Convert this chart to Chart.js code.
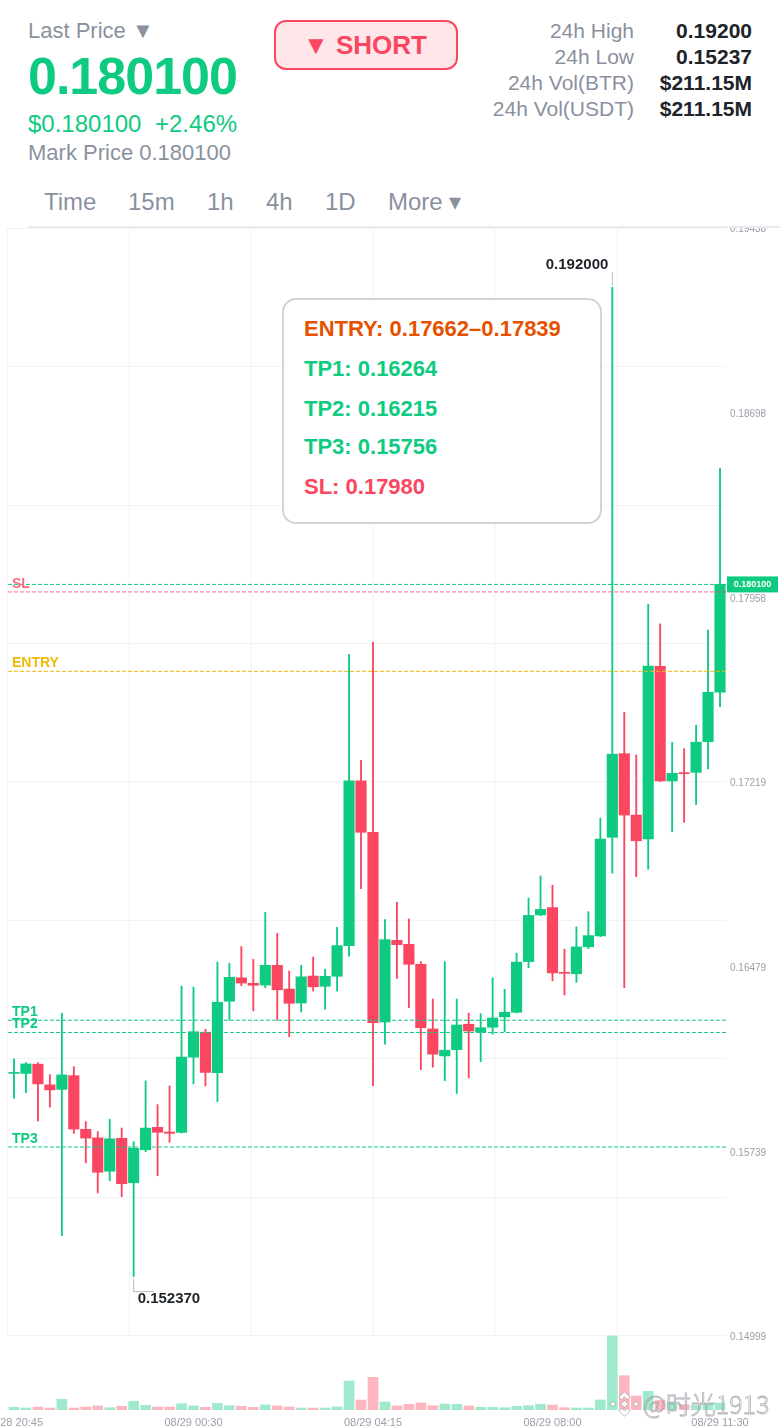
<!DOCTYPE html>
<html>
<head>
<meta charset="utf-8">
<script src="https://cdn.jsdelivr.net/npm/chart.js@4"></script>
<style>
  html, body { margin: 0; padding: 0; background: #fff; }
  body { position: relative; width: 780px; height: 1428px; overflow: hidden; font-family: "Liberation Sans", sans-serif; }
  .t { position: absolute; white-space: nowrap; line-height: 1; }
  .gray { color: #8a919e; }
  .green { color: #0ecb81; }
  .dark { color: #1e2329; font-weight: bold; }
  .r { text-align: right; }
  #line { position: absolute; left: 0; top: 228px; }
  #rule { position: absolute; left: 28px; top: 226px; width: 752px; height: 2px; background: #e9ebee; }
  #short { position: absolute; left: 274px; top: 20px; width: 178px; padding-right: 2px; height: 46px; border: 2px solid #fa4660; border-radius: 12px;
           background: #fee6e9; color: #fa4660; font-weight: bold; font-size: 26px; line-height: 46px; text-align: center; }
  #plan { position: absolute; left: 282px; top: 298px; width: 316px; height: 222px; border: 2px solid #d0d4da; border-radius: 14px; background: #fff; }
  #plan div { position: absolute; left: 20px; font-size: 22px; font-weight: bold; line-height: 1; white-space: nowrap; }
  #mark { position: absolute; left: 610px; top: 1391px; }
  #markText { position: absolute; left: 643px; top: 1387px; font-size: 25px; line-height: 32px; white-space: nowrap;
              font-family: "Noto Sans CJK SC", sans-serif; font-weight: 300;
              color: rgba(255,255,255,.6); -webkit-text-stroke: .8px rgba(120,125,135,.6); }
</style>
</head>
<body>
<div class="t gray" style="left:28px;top:20px;font-size:22px">Last Price ▼</div>
<div class="t green" style="left:28px;top:50px;font-size:52px;font-weight:bold;letter-spacing:-1px">0.180100</div>
<div class="t green" style="left:28px;top:112px;font-size:24px">$0.180100</div>
<div class="t green" style="left:155px;top:112px;font-size:24px">+2.46%</div>
<div class="t gray" style="left:28px;top:142px;font-size:22px">Mark Price 0.180100</div>
<div id="short">▼ SHORT</div>

<div class="t gray r" style="right:146px;top:20px;font-size:21px">24h High</div>
<div class="t gray r" style="right:146px;top:46px;font-size:21px">24h Low</div>
<div class="t gray r" style="right:146px;top:72px;font-size:21px">24h Vol(BTR)</div>
<div class="t gray r" style="right:146px;top:98px;font-size:21px">24h Vol(USDT)</div>
<div class="t dark r" style="right:28px;top:20px;font-size:21px">0.19200</div>
<div class="t dark r" style="right:28px;top:46px;font-size:21px">0.15237</div>
<div class="t dark r" style="right:28px;top:72px;font-size:21px">$211.15M</div>
<div class="t dark r" style="right:28px;top:98px;font-size:21px">$211.15M</div>

<div class="t gray" style="left:44px;top:190px;font-size:24px">Time</div>
<div class="t gray" style="left:128px;top:190px;font-size:24px">15m</div>
<div class="t gray" style="left:207px;top:190px;font-size:24px">1h</div>
<div class="t gray" style="left:266px;top:190px;font-size:24px">4h</div>
<div class="t gray" style="left:325px;top:190px;font-size:24px">1D</div>
<div class="t gray" style="left:388px;top:190px;font-size:24px">More ▾</div>
<div id="rule"></div>

<canvas id="line"></canvas>

<div id="plan">
  <div style="top:18px;color:#e65100">ENTRY: 0.17662–0.17839</div>
  <div style="top:58px;color:#0ecb81">TP1: 0.16264</div>
  <div style="top:98px;color:#0ecb81">TP2: 0.16215</div>
  <div style="top:136px;color:#0ecb81">TP3: 0.15756</div>
  <div style="top:176px;color:#fa4660">SL: 0.17980</div>
</div>

<svg id="mark" viewBox="0 0 30 30" width="29" height="26" preserveAspectRatio="none">
  <g fill="rgba(255,255,255,.95)" stroke="rgba(130,135,145,.7)" stroke-width=".8">
    <polygon points="15,1 21,7 18,10 15,7 12,10 9,7"/>
    <polygon points="15,29 21,23 18,20 15,23 12,20 9,23"/>
    <polygon points="3,12 6,15 3,18 0,15"/>
    <polygon points="27,12 30,15 27,18 24,15"/>
    <polygon points="15,11 19,15 15,19 11,15"/>
  </g>
</svg>
<div id="markText">@时光1913</div>

<script>
const GREEN = '#0ecb81';
const RED = '#fa4660';

const times = [
  '08/28 20:45', '08/28 21:00', '08/28 21:15', '08/28 21:30', '08/28 21:45', '08/28 22:00', '08/28 22:15', '08/28 22:30',
  '08/28 22:45', '08/28 23:00', '08/28 23:15', '08/28 23:30', '08/28 23:45', '08/29 00:00', '08/29 00:15', '08/29 00:30',
  '08/29 00:45', '08/29 01:00', '08/29 01:15', '08/29 01:30', '08/29 01:45', '08/29 02:00', '08/29 02:15', '08/29 02:30',
  '08/29 02:45', '08/29 03:00', '08/29 03:15', '08/29 03:30', '08/29 03:45', '08/29 04:00', '08/29 04:15', '08/29 04:30',
  '08/29 04:45', '08/29 05:00', '08/29 05:15', '08/29 05:30', '08/29 05:45', '08/29 06:00', '08/29 06:15', '08/29 06:30',
  '08/29 06:45', '08/29 07:00', '08/29 07:15', '08/29 07:30', '08/29 07:45', '08/29 08:00', '08/29 08:15', '08/29 08:30',
  '08/29 08:45', '08/29 09:00', '08/29 09:15', '08/29 09:30', '08/29 09:45', '08/29 10:00', '08/29 10:15', '08/29 10:30',
  '08/29 10:45', '08/29 11:00', '08/29 11:15', '08/29 11:30'
];
const shownTimes = ['08/28 20:45', '08/29 00:30', '08/29 04:15', '08/29 08:00', '08/29 11:30'];

const opens = [
  .16051, .16051, .16088, .16005, .15987, .16042, .15827, .15793, .15659, .15791,
  .15613, .15745, .15835, .15816, .15815, .16116, .16216, .16054, .16340, .16434,
  .16412, .16405, .16484, .16389, .16333, .16441, .16400, .16440, .16563, .17223,
  .17017, .16257, .16584, .16568, .16488, .16229, .16121, .16146, .16248, .16218,
  .16236, .16277, .16296, .16499, .16686, .16715, .16456, .16450, .16558, .16602,
  .16997, .17332, .17086, .16990, .17682, .17223, .17256, .17257, .17380, .17578
];
const closes = [
  .16053, .16089, .16009, .15985, .16045, .15828, .15792, .15655, .15789, .15609,
  .15751, .15832, .15815, .15811, .16116, .16218, .16055, .16336, .16436, .16413,
  .16404, .16484, .16386, .16332, .16438, .16398, .16440, .16563, .17223, .17017,
  .16254, .16587, .16567, .16488, .16234, .16128, .16144, .16245, .16221, .16234,
  .16273, .16296, .16497, .16684, .16708, .16454, .16452, .16558, .16603, .16990,
  .17330, .17086, .16983, .17683, .17223, .17253, .17252, .17378, .17578, .18010
];
const highs = [
  .16109, .16094, .16094, .16046, .16292, .16078, .15858, .15818, .15867, .15832,
  .15777, .16021, .15926, .16001, .16401, .16397, .16228, .16497, .16492, .16559,
  .16508, .16696, .16612, .16461, .16484, .16517, .16468, .16636, .17730, .17305,
  .17778, .16667, .16737, .16670, .16499, .16349, .16499, .16349, .16293, .16290,
  .16434, .16388, .16533, .16754, .16842, .16805, .16549, .16638, .16699, .17074,
  .19200, .17498, .17327, .17930, .17852, .17378, .17352, .17446, .17827, .18475
];
const lows = [
  .15952, .15974, .15860, .15916, .15401, .15811, .15693, .15572, .15621, .15557,
  .15237, .15737, .15641, .15775, .15812, .16009, .16001, .15938, .16265, .16402,
  .16302, .16394, .16265, .16198, .16297, .16381, .16308, .16381, .16521, .16791,
  .16002, .16168, .16431, .16314, .16066, .16076, .16022, .15971, .16033, .16098,
  .16208, .16218, .16293, .16474, .16683, .16422, .16365, .16416, .16551, .16599,
  .16853, .16394, .16839, .16869, .17220, .17019, .17057, .17128, .17271, .17520
];
const volumes = [
  2.7, 2, 3, 2, 10.7, 2, 3, 4, 2.3, 3.7,
  8.7, 4.7, 3, 3, 6.3, 4, 2.7, 6.7, 4.3, 3.7,
  2.7, 5, 4, 3, 2, 2, 2, 3, 29, 10,
  32.7, 8, 4, 5.7, 7, 4.3, 6, 5.7, 4, 2.7,
  2.7, 2.3, 3.7, 4.3, 5.7, 5, 2.3, 2, 2, 10,
  74, 34.3, 14, 18.7, 10, 8, 5.3, 4.7, 6, 7
];

const priceTicks = [.14999, .15739, .16479, .17219, .17958, .18698, .19438];
const gridTicks = [.14999, .15554, .16109, .16664, .17219, .17773, .18328, .18883, .19438];
const timeGrid = [0, 1, 2, 3, 4, 5];

const levelNames = ['SL', 'ENTRY', 'TP1', 'TP2', 'TP3'];
const levelPrices = [.17980, .17662, .16264, .16215, .15756];
const levelColors = ['rgba(250,70,96,.75)', '#f0b90b', GREEN, GREEN, GREEN];
const levelTextColors = ['#fa6a7e', '#f0b90b', GREEN, GREEN, GREEN];
const lastPrice = .18010;

const isUp = i => closes[i] >= opens[i];
const candleColor = ctx => isUp(ctx.dataIndex) ? GREEN : RED;
const volumeColor = ctx => isUp(ctx.dataIndex) ? 'rgba(14,203,129,.4)' : 'rgba(250,70,96,.4)';

const chartExtras = {
  id: 'chartExtras',
  beforeDatasetsDraw(chart) {
    const { ctx, scales, chartArea } = chart;
    ctx.save();
    ctx.strokeStyle = '#f2f3f5';
    ctx.lineWidth = 1;
    timeGrid.forEach(v => {
      const x = scales.xGrid.getPixelForValue(v) - .5;
      ctx.beginPath();
      ctx.moveTo(x, chartArea.top);
      ctx.lineTo(x, scales.y.getPixelForValue(.14999));
      ctx.stroke();
    });
    ctx.restore();
  },
  afterDatasetsDraw(chart) {
    const { ctx, scales, chartArea } = chart;
    const y = scales.y, x = scales.x;
    ctx.save();

    // target / stop lines
    ctx.lineWidth = 1;
    ctx.setLineDash([4, 2]);
    levelNames.forEach((name, i) => {
      const py = y.getPixelForValue(levelPrices[i]);
      ctx.strokeStyle = levelColors[i];
      ctx.beginPath();
      ctx.moveTo(chartArea.left, py);
      ctx.lineTo(chartArea.right, py);
      ctx.stroke();
    });
    const lastY = y.getPixelForValue(lastPrice);
    ctx.strokeStyle = GREEN;
    ctx.beginPath();
    ctx.moveTo(chartArea.left, lastY);
    ctx.lineTo(chartArea.right, lastY);
    ctx.stroke();
    ctx.setLineDash([]);

    ctx.font = 'bold 14px "Liberation Sans"';
    ctx.textAlign = 'left';
    ctx.textBaseline = 'middle';
    levelNames.forEach((name, i) => {
      ctx.fillStyle = levelTextColors[i];
      ctx.fillText(name, 12, y.getPixelForValue(levelPrices[i]) - 8);
    });

    // last price tag
    ctx.fillStyle = GREEN;
    ctx.fillRect(chartArea.right + 1, lastY - 8, 51, 16);
    ctx.fillStyle = '#fff';
    ctx.font = 'bold 9px "Liberation Sans"';
    ctx.textAlign = 'center';
    ctx.fillText(lastPrice.toFixed(6), chartArea.right + 26.5, lastY + .5);

    // high / low callouts
    const hi = highs.indexOf(Math.max(...highs));
    const lo = lows.indexOf(Math.min(...lows));
    const hx = x.getPixelForValue(hi), hy = y.getPixelForValue(highs[hi]);
    const lx = x.getPixelForValue(lo), ly = y.getPixelForValue(lows[lo]);
    ctx.strokeStyle = '#b7bcc4';
    ctx.beginPath();
    ctx.moveTo(hx, hy - 2);
    ctx.lineTo(hx, hy - 15);
    ctx.moveTo(lx, ly + 2);
    ctx.lineTo(lx, ly + 15);
    ctx.lineTo(lx + 20, ly + 15);
    ctx.stroke();
    ctx.fillStyle = '#1e2329';
    ctx.font = 'bold 15px "Liberation Sans"';
    ctx.textAlign = 'right';
    ctx.fillText(highs[hi].toFixed(6), hx - 4, hy - 23);
    ctx.textAlign = 'left';
    ctx.fillText(lows[lo].toFixed(6), lx + 4, ly + 22);
    ctx.restore();
  }
};

const ctx = document.getElementById('line').getContext('2d');
ctx.canvas.width = 780;
ctx.canvas.height = 1200;
ctx.canvas.style.width = '780px';
ctx.canvas.style.height = '1200px';

new Chart(ctx, {
  type: 'bar',
  data: {
    labels: times,
    datasets: [
      {
        label: 'Volume',
        yAxisID: 'yVol',
        data: volumes,
        backgroundColor: volumeColor,
        barThickness: 10,
        grouped: false,
        order: 3
      },
      {
        label: 'Wick',
        data: times.map((t, i) => [lows[i], highs[i]]),
        backgroundColor: candleColor,
        barThickness: 1.2,
        grouped: false,
        order: 2
      },
      {
        label: 'Body',
        data: times.map((t, i) => [opens[i], closes[i]]),
        backgroundColor: candleColor,
        barThickness: 10.5,
        minBarLength: 1,
        grouped: false,
        order: 1
      }
    ]
  },
  options: {
    responsive: false,
    animation: false,
    layout: { padding: { left: 8, right: 0, top: 0, bottom: 0 } },
    plugins: { legend: { display: false }, tooltip: { enabled: false } },
    scales: {
      x: {
        grid: { display: false, drawTicks: false },
        border: { display: false },
        ticks: {
          autoSkip: false,
          maxRotation: 0,
          padding: 6,
          color: '#9aa0aa',
          font: { family: 'Liberation Sans', size: 11 },
          callback(v) {
            const label = this.getLabelForValue(v);
            return shownTimes.includes(label) ? label : '';
          }
        },
        afterFit(scale) {
          scale.height = 18;
          scale.paddingLeft = 0;
          scale.paddingRight = 0;
        }
      },
      xGrid: {
        type: 'linear',
        position: 'top',
        offset: false,
        min: 0,
        max: 5.89,
        grid: { display: false, offset: false },
        border: { display: false },
        ticks: { display: false },
        afterFit(scale) { scale.height = 0; }
      },
      y: {
        position: 'right',
        min: .147025,
        max: .19438,
        border: { display: false },
        grid: {
          drawTicks: false,
          color: c => gridTicks.includes(c.tick.value) ? '#f2f3f5' : 'rgba(0,0,0,0)'
        },
        ticks: {
          padding: 4,
          labelOffset: 1.5,
          color: '#9aa0aa',
          font: { family: 'Liberation Sans', size: 10 },
          callback: v => priceTicks.includes(v) ? v.toFixed(5) : ''
        },
        afterBuildTicks(scale) {
          const all = [...new Set([...gridTicks, ...priceTicks])].sort((a, b) => a - b);
          scale.ticks = all.map(v => ({ value: v }));
        },
        afterFit(scale) {
          scale.width = 54;
          scale.paddingTop = 0;
          scale.paddingBottom = 0;
        }
      },
      yVol: {
        display: false,
        min: 0,
        max: 1182
      }
    }
  },
  plugins: [chartExtras]
});
</script>
</body>
</html>
